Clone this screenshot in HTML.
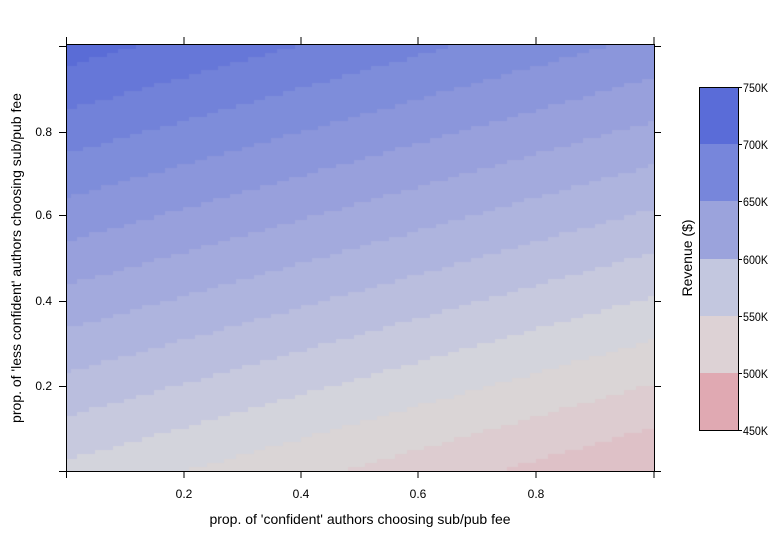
<!DOCTYPE html>
<html><head><style>
body{margin:0;background:#fff;width:768px;height:538px;overflow:hidden;font-family:"Liberation Sans",sans-serif}
</style></head><body>
<canvas id="c" width="588" height="427" style="position:absolute;left:66px;top:44px"></canvas>
<svg width="768" height="538" style="position:absolute;left:0;top:0">
<g stroke="#000" stroke-width="1" fill="none">
<rect x="66.5" y="44.5" width="588" height="427"/>
<path d="M66.5 471v7M184 471v7M301 471v7M418 471v7M536 471v7M654 471v7M66.5 44v-7M184 44v-7M301 44v-7M418 44v-7M536 44v-7M654 44v-7M66 471.5h-7M66 386.5h-7M66 301.5h-7M66 215.5h-7M66 132.5h-7M66 46.5h-7M654 471.5h7M654 386.5h7M654 301.5h7M654 215.5h7M654 132.5h7M654 46.5h7"/>
</g>
<rect x="699" y="87" width="39" height="57" fill="#5a6cd8"/>
<rect x="699" y="144" width="39" height="57" fill="#7786db"/>
<rect x="699" y="201" width="39" height="58" fill="#9ba3dc"/>
<rect x="699" y="259" width="39" height="57" fill="#c3c7df"/>
<rect x="699" y="316" width="39" height="57" fill="#ddd2d5"/>
<rect x="699" y="373" width="39" height="57" fill="#e0a9b2"/>
<g stroke="#000" fill="none"><rect x="699.5" y="87.5" width="39" height="343"/>
<path d="M738 87.5h4M738 144.5h4M738 201.5h4M738 259.5h4M738 316.5h4M738 373.5h4M738 430.5h4"/></g>
<g font-size="12" font-family="Liberation Sans,sans-serif">
<text x="743" y="92" textLength="25" lengthAdjust="spacingAndGlyphs">750K</text><text x="743" y="149" textLength="25" lengthAdjust="spacingAndGlyphs">700K</text><text x="743" y="206" textLength="25" lengthAdjust="spacingAndGlyphs">650K</text><text x="743" y="264" textLength="25" lengthAdjust="spacingAndGlyphs">600K</text><text x="743" y="321" textLength="25" lengthAdjust="spacingAndGlyphs">550K</text><text x="743" y="378" textLength="25" lengthAdjust="spacingAndGlyphs">500K</text><text x="743" y="435" textLength="25" lengthAdjust="spacingAndGlyphs">450K</text>
<text x="184" y="498" text-anchor="middle">0.2</text><text x="301" y="498" text-anchor="middle">0.4</text><text x="418" y="498" text-anchor="middle">0.6</text><text x="536" y="498" text-anchor="middle">0.8</text>
<text x="52" y="390" text-anchor="end">0.2</text><text x="52" y="305" text-anchor="end">0.4</text><text x="52" y="219" text-anchor="end">0.6</text><text x="52" y="136" text-anchor="end">0.8</text>
<text x="360" y="524" text-anchor="middle" font-size="14">prop. of 'confident' authors choosing sub/pub fee</text>
<text transform="translate(21,258) rotate(-90)" text-anchor="middle" font-size="14">prop. of 'less confident' authors choosing sub/pub fee</text>
<text transform="translate(692,258) rotate(-90)" text-anchor="middle" font-size="14">Revenue ($)</text>
</g>
</svg>
<script>
var c=document.getElementById('c').getContext('2d');
var stops=[[450,[222,165,176]],[500,[222,200,205]],[540,[217,217,217]],[560,[205,206,222]],[600,[180,185,222]],[650,[152,160,220]],[700,[120,136,218]],[750,[90,108,214]]];
function col(v){if(v<=stops[0][0])return stops[0][1];var n=stops.length;if(v>=stops[n-1][0])return stops[n-1][1];
for(var i=0;i<n-1;i++){if(v<=stops[i+1][0]){var t=(v-stops[i][0])/(stops[i+1][0]-stops[i][0]),a=stops[i][1],b=stops[i+1][1];return [0,1,2].map(function(k){return Math.round(a[k]+(b[k]-a[k])*t)});}}}
var N=100,W=588,H=427;
for(var i=0;i<N;i++)for(var j=0;j<N;j++){
var x=(i+0.5)/N,y=(j+0.5)/N;
var v=555-75*x+195*y;
v=Math.floor(v/20)*20+10;
var k=col(v);c.fillStyle='rgb('+k[0]+','+k[1]+','+k[2]+')';
var x0=Math.floor(i*W/N),x1=Math.ceil((i+1)*W/N),y1=H-Math.floor(j*H/N),y0=H-Math.ceil((j+1)*H/N);
c.fillRect(x0,y0,x1-x0,y1-y0);}
</script>
</body></html>
